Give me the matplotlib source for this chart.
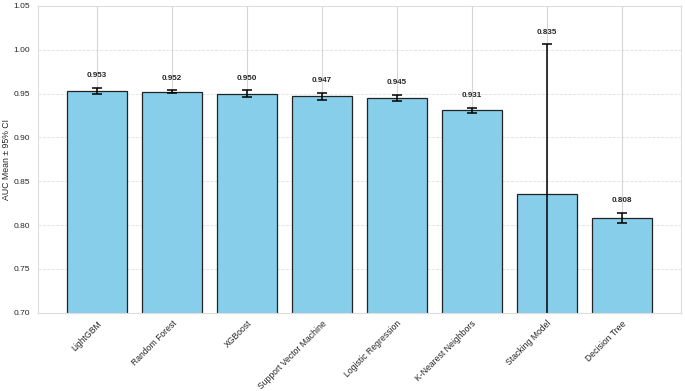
import matplotlib
matplotlib.use("Agg")
import matplotlib.pyplot as plt
import seaborn as sns
import numpy as np

# AUC平均値と95%信頼区間の半幅
models = ["LightGBM", "Random Forest", "XGBoost", "Support Vector Machine",
          "Logistic Regression", "K-Nearest Neighbors", "Stacking Model", "Decision Tree"]
auc_mean = [0.953, 0.952, 0.950, 0.947, 0.945, 0.931, 0.835, 0.808]
auc_ci = [0.0035, 0.0015, 0.0036, 0.0038, 0.0035, 0.0028, 0.171, 0.0055]

sns.set_style("whitegrid")
plt.rcParams["font.family"] = ["Liberation Sans", "DejaVu Sans"]

fig, ax = plt.subplots(figsize=(6.85, 3.91), dpi=100)
x = np.arange(len(models))
ax.bar(x, auc_mean, yerr=auc_ci, capsize=3.5, color="skyblue", edgecolor="#222222",
       linewidth=0.9, width=0.8, error_kw=dict(elinewidth=1.1, capthick=1.1, ecolor="black"))

# 棒の上に値を表示
for i, (m, c) in enumerate(zip(auc_mean, auc_ci)):
    ax.text(i, m + c + 0.01, "%.3f" % m, ha="center", va="bottom",
            fontsize=5.8, fontweight="bold")

ax.set_ylim(0.70, 1.05)
ax.set_xticks(x)
ax.set_xticklabels(models, rotation=45, ha="right", rotation_mode="anchor", fontsize=6.2)
ax.tick_params(axis="y", labelsize=6, pad=2)
ax.tick_params(axis="x", pad=1)
ax.set_ylabel("AUC Mean ± 95% CI", fontsize=6.3, labelpad=2)
ax.grid(axis="y", linestyle="--", linewidth=0.6, alpha=0.6)
ax.grid(axis="x", linestyle="-", linewidth=0.8, alpha=0.8)
for s in ax.spines.values():
    s.set_color("#dddddd")

plt.subplots_adjust(left=0.055, right=0.994, top=0.985, bottom=0.2)
plt.savefig("out.png", dpi=100)
plt.close()
